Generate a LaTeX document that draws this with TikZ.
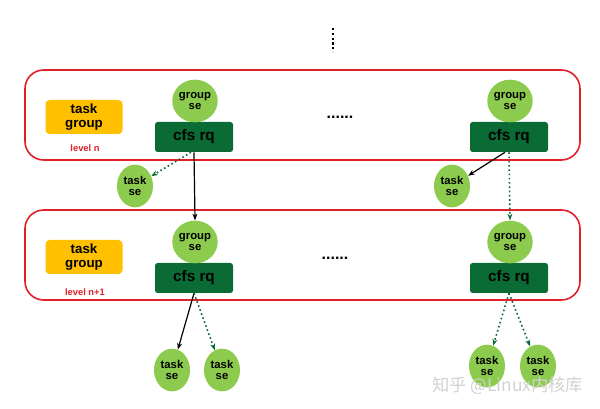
\documentclass[tikz,border=0pt]{standalone}
\usepackage{fontspec}
\setmainfont{Liberation Sans}
\newfontfamily\cjk{Noto Sans CJK SC}
\usetikzlibrary{arrows.meta,shapes.geometric}
\definecolor{lg}{HTML}{8CCB4E}
\definecolor{dg}{HTML}{0B6B34}
\definecolor{og}{HTML}{FFC000}
\definecolor{rd}{HTML}{E0202A}
\begin{document}
\begin{tikzpicture}[x=0.75pt,y=-0.75pt,font=\bfseries,
 lvl/.style={draw=rd,line width=1.2pt,rounded corners=14pt},
 tg/.style={fill=og,rounded corners=3pt,minimum width=57.75pt,minimum height=25.5pt,align=center,font=\bfseries\fontsize{10}{10}\selectfont,inner sep=0pt},
 se/.style={ellipse,fill=lg,minimum width=27pt,minimum height=32pt,inner sep=0pt,align=center,font=\bfseries\fontsize{8.5}{8.5}\selectfont},
 rq/.style={fill=dg,rounded corners=2pt,minimum width=58.5pt,minimum height=22.5pt,inner sep=0pt,font=\bfseries\fontsize{11.5}{11.5}\selectfont},
 sol/.style={-{Stealth[length=5pt]},line width=0.9pt},
 dot/.style={-{Stealth[open,length=5pt]},line width=1.2pt,dotted,dg}]
\useasboundingbox (0,0) rectangle (600,409);
\fill[white] (0,0) rectangle (600,409);
\draw[line width=1.6pt,dotted] (333,28) -- (333,52);
\draw[lvl] (25,70) rectangle (580,160);
\draw[lvl] (25,210) rectangle (580,300);
\node[tg] (tg1) at (84,117) {task\\group};
\node[text=rd,font=\bfseries\fontsize{7}{7}\selectfont] (l1) at (85,148) {level n};
\node[tg] (tg2) at (84,257) {task\\group};
\node[text=rd,font=\bfseries\fontsize{7}{7}\selectfont] (l2) at (85,292) {level n+1};
\node[rq] (rqa) at (194,137) {cfs rq};
\node[se] (ga) at (195,101) {group\\se};
\node[rq] (rqb) at (509,137) {cfs rq};
\node[se] (gb) at (510,101) {group\\se};
\node[rq] (rqc) at (194,278) {cfs rq};
\node[se] (gc) at (195,242) {group\\se};
\node[rq] (rqd) at (509,278) {cfs rq};
\node[se] (gd) at (510,242) {group\\se};
\node[font=\bfseries\fontsize{12}{12}\selectfont] (d1) at (340,117) {......};
\node[font=\bfseries\fontsize{12}{12}\selectfont] (d2) at (335,258) {......};
\node[se] (t1) at (135,186) {task\\se};
\node[se] (t2) at (452,186) {task\\se};
\node[se] (t3) at (172,370) {task\\se};
\node[se] (t4) at (222,370) {task\\se};
\node[se] (t5) at (487,366) {task\\se};
\node[se] (t6) at (538,366) {task\\se};
\draw[dot] (rqa.south) ++(-3,0) coordinate (a1) (a1) -- (t1);
\draw[sol] (rqa.south) -- (gc.north);
\draw[sol] (rqb.south) ++(-4,0) coordinate (b1) (b1) -- (t2);
\draw[dot] (rqb.south) -- (gd.north);
\draw[sol] (rqc.south) -- (t3);
\draw[dot] (rqc.south) -- (t4);
\draw[dot] (rqd.south) -- (t5);
\draw[dot] (rqd.south) -- (t6);
\node[text=gray!35,font=\cjk\fontsize{13}{13}\selectfont,anchor=east] (wm) at (588,386) {知乎 @Linux内核库};
\end{tikzpicture}
\end{document}
